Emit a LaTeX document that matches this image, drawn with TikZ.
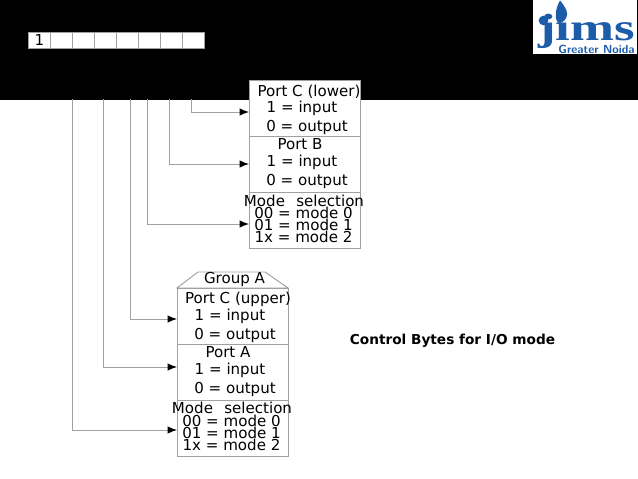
\documentclass[tikz,border=0pt]{standalone}
\usepackage{fontspec}
\setmainfont{DejaVu Sans}
\newfontfamily\logoserif{Liberation Serif}
\definecolor{linegray}{HTML}{A0A0A0}
\definecolor{jimsblue}{HTML}{1C5CA8}
\usetikzlibrary{arrows.meta}
\tikzset{
  x=0.75pt,y=-0.75pt,
  cellbox/.style={draw=linegray,fill=white,line width=0.7pt,minimum width=16.5pt,minimum height=12pt,inner sep=0pt,anchor=north west},
  panel/.style={draw=linegray,fill=white,line width=0.7pt,minimum width=83.25pt,minimum height=42pt,inner sep=0pt,anchor=north west},
  label/.style={inner sep=0pt,font=\fontsize{11.3pt}{12pt}\selectfont,text=black},
  wire/.style={draw=linegray,line width=0.7pt,-{Latex[length=7pt,width=5.5pt,black]}}
}
\begin{document}
\begin{tikzpicture}
\useasboundingbox (0,0) rectangle (638,478);
\fill[white] (0,0) rectangle (638,478);
\fill[black] (0,0) rectangle (638,99.5);
% logo
\fill[white] (533,0) rectangle (637,54);
\fill[jimsblue] (560,0.5) .. controls (566,8) and (569,13) .. (566,18) .. controls (564,22) and (561,23) .. (559,23.5) .. controls (554,20) and (555,9) .. (560,0.5) -- cycle;
\fill[jimsblue] (543.5,20.5) circle (4.8);
\node[inner sep=0pt,text=jimsblue,font=\logoserif\bfseries\fontsize{30pt}{30pt}\selectfont,xscale=1.32,yscale=0.95] (logotext) at (586.5,31.5) {jims};
\node[inner sep=0pt,text=jimsblue,font=\sffamily\bfseries\fontsize{8.8pt}{9pt}\selectfont] (logosub) at (596.5,49.5) {Greater Noida};
% bit cells
\foreach \i in {0,...,7} \node[cellbox] (bit\i) at (28+22*\i,32) {};
\node[label] (bitval) at (bit0.center) {1};
% group B panels
\node[panel] (pcl) at (249,80) {};
\node[panel] (pb) at (249,136) {};
\node[panel] (msb) at (249,192) {};
% group A panels
\draw[draw=linegray,fill=white,line width=0.7pt] (177,288) -- (198,272) -- (265,272) -- (288,288) -- cycle;
\node[panel] (pcu) at (177,288) {};
\node[panel] (pa) at (177,344) {};
\node[panel] (msa) at (177,400) {};
% connector ends
\coordinate (s1) at (191,99);
\coordinate (s2) at (169,99);
\coordinate (s3) at (147,99);
\coordinate (s4) at (130,99);
\coordinate (s5) at (103,99);
\coordinate (s6) at (72,99);
\coordinate (e1) at (249,112);
\coordinate (e2) at (249,164);
\coordinate (e3) at (249,224);
\coordinate (e4) at (177,319);
\coordinate (e5) at (177,367);
\coordinate (e6) at (177,430);
\foreach \k in {1,...,6} \draw[wire] (s\k) |- (e\k);
% labels, group B
\node[label] (t1) at (309,91.5) {Port C (lower)};
\node[label] (t2) at (302,108.5) {1 = input};
\node[label] (t3) at (307,127.5) {0 = output};
\node[label] (t4) at (300,144.5) {Port B};
\node[label] (t5) at (302,162.5) {1 = input};
\node[label] (t6) at (307,181.5) {0 = output};
\node[label] (t7) at (304,200.5) {Mode\hspace{0.75em}selection};
\node[label] (t8) at (303.5,212.5) {00 = mode 0};
\node[label] (t9) at (303.5,224.5) {01 = mode 1};
\node[label] (t10) at (303.5,237) {1x = mode 2};
% labels, group A
\node[label] (u0) at (234.5,279.5) {Group A};
\node[label] (u1) at (238,299) {Port C (upper)};
\node[label] (u2) at (230,316) {1 = input};
\node[label] (u3) at (235,335) {0 = output};
\node[label] (u4) at (228,352.5) {Port A};
\node[label] (u5) at (230,370.5) {1 = input};
\node[label] (u6) at (235,389) {0 = output};
\node[label] (u7) at (232,408) {Mode\hspace{0.75em}selection};
\node[label] (u8) at (231.5,420.5) {00 = mode 0};
\node[label] (u9) at (231.5,432.5) {01 = mode 1};
\node[label] (u10) at (231.5,445) {1x = mode 2};
\node[inner sep=0pt,font=\bfseries\fontsize{10.25pt}{12pt}\selectfont] (title) at (452.5,340.5) {Control Bytes for I/O mode};
\end{tikzpicture}
\end{document}
